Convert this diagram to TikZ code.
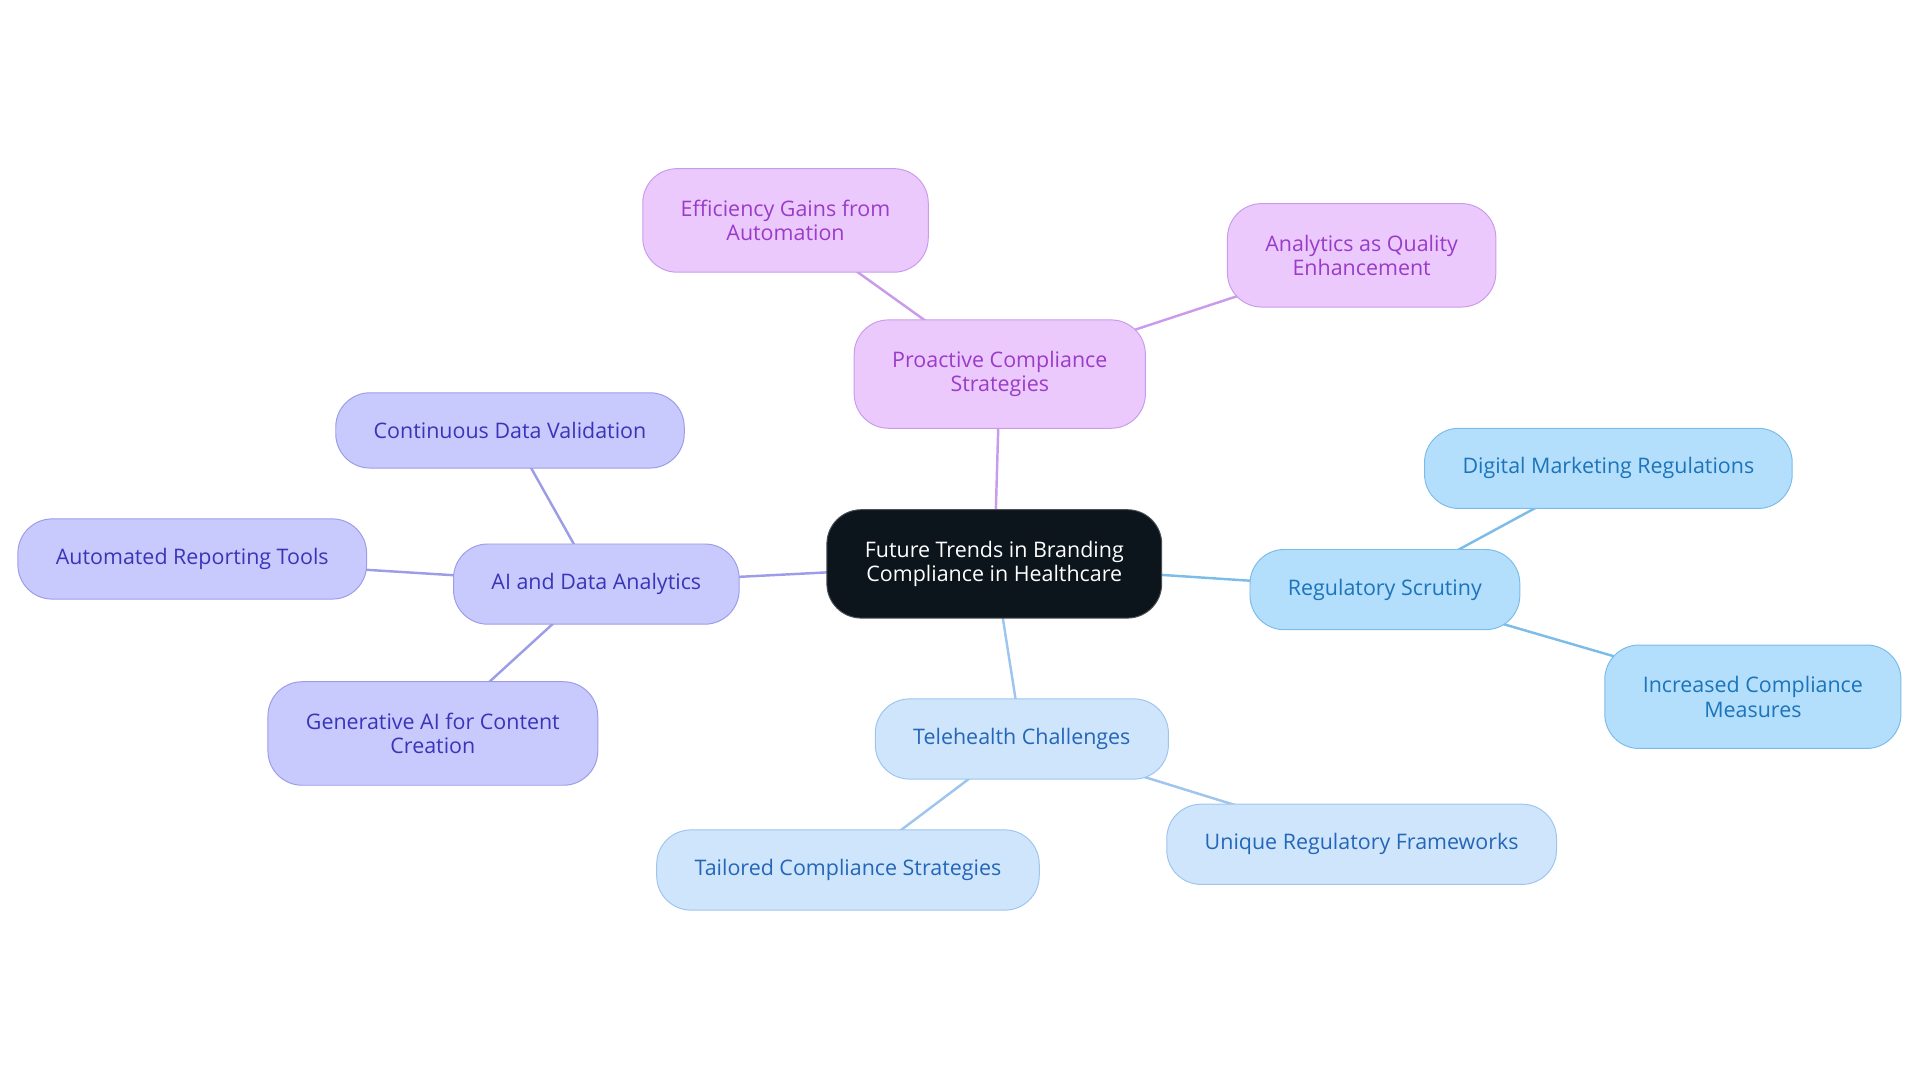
\documentclass[tikz,border=0pt]{standalone}
\usepackage{fontspec}
\setmainfont{Open Sans}
\usetikzlibrary{backgrounds}

\definecolor{rootfill}{HTML}{0C141C}
\definecolor{rootline}{HTML}{4A4F55}
\definecolor{proFill}{HTML}{EBC9FD}
\definecolor{proLine}{HTML}{C99BEB}
\definecolor{proText}{HTML}{9A3CC8}
\definecolor{aiFill}{HTML}{C8CAFD}
\definecolor{aiLine}{HTML}{9C9CE8}
\definecolor{aiText}{HTML}{3A35B8}
\definecolor{regFill}{HTML}{B3DEFC}
\definecolor{regLine}{HTML}{7CBCE8}
\definecolor{regText}{HTML}{1C74BA}
\definecolor{telFill}{HTML}{CFE5FC}
\definecolor{telLine}{HTML}{9EC5EE}
\definecolor{telText}{HTML}{2466B8}

\begin{document}
\begin{tikzpicture}[x=1pt,y=-1pt,
  every node/.style={rounded corners=28pt,align=center,inner xsep=31pt,inner ysep=24pt,
    line width=0.8pt,font=\fontsize{17.5}{20}\selectfont},
  two/.style={inner ysep=25.5pt},
  root/.style={fill=rootfill,draw=rootline,text=white},
  pro/.style={fill=proFill,draw=proLine,text=proText},
  ai/.style={fill=aiFill,draw=aiLine,text=aiText},
  reg/.style={fill=regFill,draw=regLine,text=regText},
  tel/.style={fill=telFill,draw=telLine,text=telText},
  link/.style={line width=2pt}]
  \useasboundingbox (0,0) rectangle (1568,884);
  \node[root,two] (root) at (812,460.5) {Future Trends in Branding\\Compliance in Healthcare};
  % proactive branch
  \node[pro,two] (pro) at (816.5,305.5) {Proactive Compliance\\Strategies};
  \node[pro,two] (eff) at (641.5,180) {Efficiency Gains from\\Automation};
  \node[pro,two] (ana) at (1112,208.5) {Analytics as Quality\\Enhancement};
  % ai branch
  \node[ai] (ai) at (487,477) {AI and Data Analytics};
  \node[ai] (val) at (416.5,351.5) {Continuous Data Validation};
  \node[ai] (rep) at (157,456.5) {Automated Reporting Tools};
  \node[ai,two] (gen) at (353.5,599) {Generative AI for Content\\Creation};
  % regulatory branch
  \node[reg] (reg) at (1131,481.5) {Regulatory Scrutiny};
  \node[reg] (dig) at (1313.5,382.5) {Digital Marketing Regulations};
  \node[reg,two] (inc) at (1431.5,569) {Increased Compliance\\Measures};
  % telehealth branch
  \node[tel] (tel) at (834.5,603.5) {Telehealth Challenges};
  \node[tel] (tai) at (692.5,710.5) {Tailored Compliance Strategies};
  \node[tel] (uni) at (1112,689.5) {Unique Regulatory Frameworks};
  \begin{scope}[on background layer]
    \draw[link,proLine] (root.center) -- (pro.center);
    \draw[link,proLine] (pro.center) -- (eff.center);
    \draw[link,proLine] (pro.center) -- (ana.center);
    \draw[link,aiLine] (root.center) -- (ai.center);
    \draw[link,aiLine] (ai.center) -- (val.center);
    \draw[link,aiLine] (ai.center) -- (rep.center);
    \draw[link,aiLine] (ai.center) -- (gen.center);
    \draw[link,regLine] (root.center) -- (reg.center);
    \draw[link,regLine] (reg.center) -- (dig.center);
    \draw[link,regLine] (reg.center) -- (inc.center);
    \draw[link,telLine] (root.center) -- (tel.center);
    \draw[link,telLine] (tel.center) -- (tai.center);
    \draw[link,telLine] (tel.center) -- (uni.center);
  \end{scope}
\end{tikzpicture}
\end{document}
